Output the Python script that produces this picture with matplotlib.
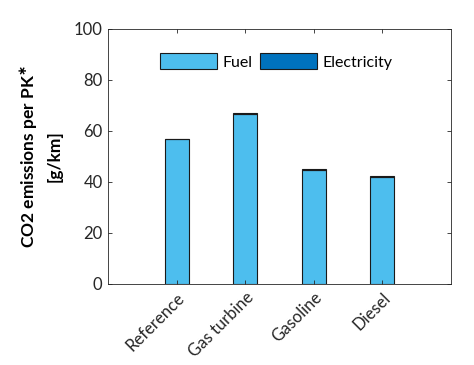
import matplotlib
matplotlib.use("Agg")
import matplotlib.pyplot as plt
import numpy as np

# bar data
categories = ["Reference", "Gas turbine", "Gasoline", "Diesel"]
fuel = [56.9, 66.6, 44.7, 42.0]
electricity = [0.0, 0.6, 0.5, 0.5]

plt.rcParams['font.family'] = ['Lato', 'DejaVu Sans']

fig = plt.figure(figsize=(4.74, 3.65), dpi=100)
ax = fig.add_axes([0.228, 0.222, 0.723, 0.699])

x = np.arange(1, len(categories) + 1)
w = 0.35
ax.bar(x, fuel, w, color='#4DBEEE', edgecolor='#1a1a1a', linewidth=0.8, label='Fuel')
ax.bar(x, electricity, w, bottom=fuel, color='#0072BD', edgecolor='#1a1a1a',
       linewidth=0.8, label='Electricity')

ax.set_xlim(0, 5)
ax.set_ylim(0, 100)
ax.set_yticks(range(0, 101, 20))
ax.set_xticks(x)
ax.set_xticklabels(categories, rotation=45, ha='right', rotation_mode='anchor')
ax.tick_params(direction='in', top=True, right=True, length=3, width=0.6,
               labelsize=12, colors='#262626', pad=4)
for s in ax.spines.values():
    s.set_color('#262626')
    s.set_linewidth(0.6)

ax.set_ylabel("CO2 emissions per PK$^{\\mathbf{\\ast}}$\n[g/km]", fontsize=12.5,
              fontweight='bold', labelpad=8, linespacing=1.5)

ax.legend(loc='upper center', ncol=2, frameon=False, fontsize=11.5,
          handlelength=3.6, handleheight=1.1, columnspacing=0.5, handletextpad=0.3,
          bbox_to_anchor=(0.49, 0.96))

fig.savefig("out.png", dpi=100)
